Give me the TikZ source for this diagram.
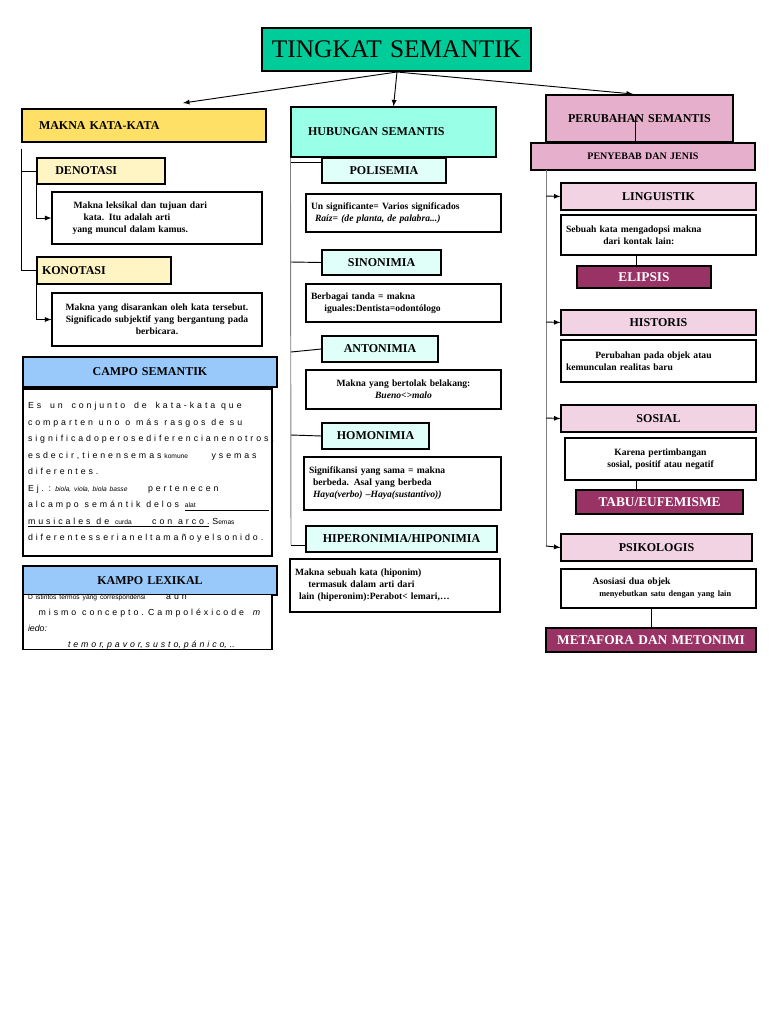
\documentclass[tikz,border=0pt]{standalone}
\usepackage{fontspec}
\setmainfont{Liberation Serif}
\setsansfont{Liberation Sans}
\definecolor{teal1}{HTML}{00CC99}
\definecolor{gold1}{HTML}{FFE066}
\definecolor{cream}{HTML}{FFF4C4}
\definecolor{blue1}{HTML}{99C9FA}
\definecolor{aqua1}{HTML}{99FFE6}
\definecolor{aqua2}{HTML}{E0FFF8}
\definecolor{pink1}{HTML}{E6B0CC}
\definecolor{pink2}{HTML}{F2D3E3}
\definecolor{plum}{HTML}{993366}
\newcommand\mybox[7]{\node[#2, minimum width={(#5-#3)*0.75pt}, minimum height={(#6-#4)*0.75pt}, text width={(#5-#3-10)*0.75pt}] (#1) at ({(#3+#5)/2},{(#4+#6)/2}) {#7};}
\newcommand\spl[1]{\makebox[178pt][s]{#1}\\}
\begin{document}
\begin{tikzpicture}[x=0.75pt,y=-0.75pt,
  base/.style={draw, line width=0.8pt, inner sep=0pt, font=\bfseries\fontsize{9}{10}\selectfont},
  hdr/.style={base, align=center},
  hdrl/.style={base, align=left},
  txt/.style={base, fill=white, align=center, font=\bfseries\fontsize{7.2}{9}\selectfont},
  dark/.style={base, fill=plum, text=white, align=center, font=\bfseries\fontsize{10}{11}\selectfont},
  con/.style={line width=0.7pt},
  arr/.style={con, -latex}]
\useasboundingbox (0,0) rectangle (768,1024);
\fill[white] (0,0) rectangle (768,1024);
\mybox{title}{hdr, fill=teal1, font=\fontsize{19}{20}\selectfont}{262}{28}{531}{71}{TINGKAT SEMANTIK}
% left
\mybox{mk}{hdrl, fill=gold1}{22}{109}{266}{142}{\hspace*{9pt}MAKNA KATA-KATA}
\mybox{den}{hdrl, fill=cream}{37}{158}{165}{184}{\hspace*{10pt}DENOTASI}
\mybox{dent}{txt}{52}{192}{262}{244}{\hspace*{-25pt}Makna leksikal dan tujuan dari\\ \hspace*{-45pt}kata. Itu adalah arti\\ \hspace*{-40pt}yang muncul dalam kamus.}
\mybox{kon}{hdrl, fill=cream}{37}{257}{171}{284}{KONOTASI}
\mybox{kont}{txt}{52}{293}{262}{346}{Makna yang disarankan oleh kata tersebut.\\Significado subjektif yang bergantung pada\\berbicara.}
\mybox{cs}{hdr, fill=blue1}{23}{357}{277}{387}{CAMPO SEMANTIK}
\mybox{cst}{base, fill=white, align=left, font=\sffamily\fontsize{6.6}{12.4}\selectfont}{23}{389}{272}{556}{%
\spl{E s \ \ u n \ \ c o n j u n t o \ \ d e \ \ k a t a - k a t a \ q u e}
\spl{c o m p a r t e n \ u n o \ o \ m á s \ r a s g o s \ d e \ s u}
\spl{s i g n i f i c a d o p e r o s e d i f e r e n c i a n e n o t r o s ,}
\spl{e s d e c i r , t i e n e n s e m a s {\fontsize{5}{6}\selectfont komune} \ \ \ \ \ \ \ y s e m a s}
d i f e r e n t e s .\\
\spl{E j . : {\itshape\fontsize{5}{6}\selectfont biola, viola, biola basse} \ \ \ \ \ \ p e r t e n e c e n}
\spl{a l c a m p o \ s e m á n t i k \ d e l o s \ \underline{\fontsize{5}{6}\selectfont alat\hspace{55pt}}}
\spl{\underline{m u s i c a l e s \ d e \ {\fontsize{5}{6}\selectfont curda} \ \ \ \ \ \ c o n \ a r c o .} S{\fontsize{5}{6}\selectfont emas}}
\spl{d i f e r e n t e s s e r i a n e l t a m a ñ o y e l s o n i d o .}}
\mybox{kl}{hdr, fill=blue1}{23}{566}{277}{595}{KAMPO LEXIKAL}
\mybox{klt}{base, fill=white, align=left, font=\sffamily\fontsize{6.6}{12}\selectfont}{23}{597}{272}{647}{%
\spl{{\fontsize{5}{6}\selectfont D istintos termos yang correspondensi} \ \ \ \ \ \ a u n}
\hspace*{8pt}m i s m o \ c o n c e p t o . C a m p o l é x i c o d e \ \ {\itshape m iedo:}\\
\hspace*{30pt}{\itshape t e m o r, p a v o r, s u s t o, p á n i c o, ..}}
% middle
\mybox{hs}{hdrl, fill=aqua1}{291}{107}{496}{157}{\hspace*{9pt}HUBUNGAN SEMANTIS\\[8pt]}
\mybox{pol}{hdr, fill=aqua2}{322}{158}{446}{183}{POLISEMIA}
\mybox{polt}{txt, align=left}{306}{194}{501}{232}{Un significante= Varios significados\\ \hspace*{3pt}\itshape Raíz= (de planta, de palabra...)}
\mybox{sin}{hdr, fill=aqua2}{322}{250}{441}{275}{SINONIMIA}
\mybox{sint}{txt, align=left}{306}{284}{501}{322}{Berbagai tanda = makna\\ \hspace*{10pt}iguales:Dentista=odontólogo}
\mybox{ant}{hdr, fill=aqua2}{322}{336}{438}{362}{ANTONIMIA}
\mybox{antt}{txt}{306}{370}{501}{409}{Makna yang bertolak belakang:\\ \itshape Bueno<>malo}
\mybox{hom}{hdr, fill=aqua2}{322}{423}{429}{449}{HOMONIMIA}
\mybox{homt}{txt, align=left}{304}{457}{501}{510}{Signifikansi yang sama = makna\\ \hspace*{3pt}berbeda. Asal yang berbeda\\ \hspace*{3pt}\itshape Haya(verbo) --Haya(sustantivo))}
\mybox{hip}{hdr, fill=aqua2}{306}{526}{497}{552}{HIPERONIMIA/HIPONIMIA}
\mybox{hipt}{txt, align=left}{290}{559}{500}{612}{Makna sebuah kata (hiponim)\\ \hspace*{10pt}termasuk dalam arti dari\\ \hspace*{3pt}lain (hiperonim):Perabot< lemari,\ldots}
% right
\mybox{ps}{hdr, fill=pink1}{546}{95}{733}{142}{PERUBAHAN SEMANTIS\\[10pt]}
\mybox{pj}{hdr, fill=pink1, font=\bfseries\fontsize{7.5}{9}\selectfont}{531}{143}{755}{170}{PENYEBAB DAN JENIS}
\mybox{lin}{hdr, fill=pink2}{561}{183}{756}{210}{LINGUISTIK}
\mybox{lint}{txt, align=left}{561}{215}{756}{255}{Sebuah kata mengadopsi makna\\ \hspace*{28pt}dari kontak lain:}
\mybox{eli}{dark}{577}{266}{711}{288}{ELIPSIS}
\mybox{his}{hdr, fill=pink2}{561}{310}{756}{335}{HISTORIS}
\mybox{hist}{txt, align=left}{561}{340}{756}{382}{\hspace*{22pt}Perubahan pada objek atau\\kemunculan realitas baru}
\mybox{sos}{hdr, fill=pink2}{561}{405}{756}{432}{SOSIAL}
\mybox{sost}{txt}{565}{438}{756}{480}{Karena pertimbangan\\sosial, positif atau negatif}
\mybox{tab}{dark}{576}{490}{743}{514}{TABU/EUFEMISME}
\mybox{psi}{hdr, fill=pink2}{561}{534}{752}{561}{PSIKOLOGIS}
\mybox{psit}{txt, align=left}{561}{569}{756}{608}{\hspace*{20pt}Asosiasi dua objek\\ \hspace*{25pt}{\fontsize{6.2}{8}\selectfont menyebutkan satu dengan yang lain}}
\mybox{met}{dark}{546}{628}{756}{652}{METAFORA DAN METONIMI}
% connectors
\coordinate (tc) at (397,72);
\draw[arr] (tc) -- (183,103);
\draw[arr] (tc) -- (hs.north);
\draw[arr] (tc) -- (633,94);
\draw[con] (mk.south west) ++(0,6) |- (den.west);
\draw[con] (mk.south west) ++(0,6) |- (kon.west);
\draw[arr] (den.south west) |- (dent.west);
\draw[arr] (kon.south west) |- (kont.west);
\draw[con, gray] (hs.south west) -- (291,545);
\draw[con] (291,162) -- (pol.west |- 0,162);
\draw[con] (291,262) -- (sin.west);
\draw[con] (291,352) -- (ant.west);
\draw[con] (291,435) -- (hom.west);
\draw[con] (291,545) -- (hip.west |- 0,545);
\draw[con] (635,116) -- (ps.south -| 635,0);
\draw[con, gray] (546,170) -- (546,546);
\draw[arr] (546,196) -- (lin.west);
\draw[arr] (546,322) -- (his.west);
\draw[arr] (546,418) -- (sos.west);
\draw[arr] (546,546) -- (psi.west);
\draw[con] (lint.south -| 636,0) -- (eli.north -| 636,0);
\draw[con] (sost.south -| 636,0) -- (tab.north -| 636,0);
\draw[con] (psit.south -| 651,0) -- (met.north -| 651,0);
\end{tikzpicture}
\end{document}
